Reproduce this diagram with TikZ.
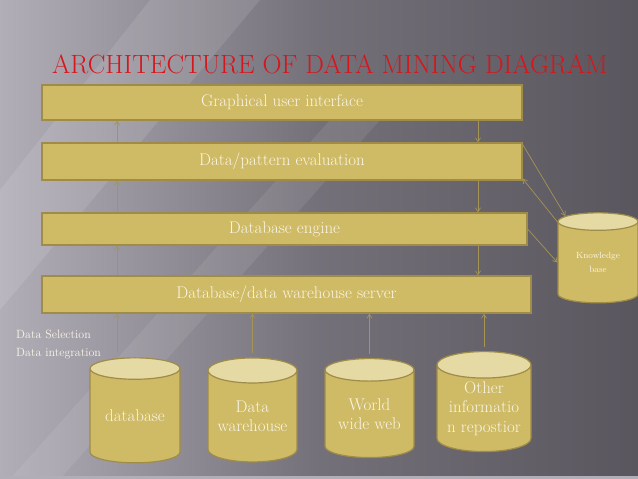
\documentclass[tikz,border=0pt]{standalone}
\usepackage{tikz}
\usetikzlibrary{shapes.geometric, arrows.meta, positioning}
\definecolor{bgdark}{RGB}{90,86,94}
\definecolor{bglight}{RGB}{178,174,184}
\definecolor{boxgold}{RGB}{207,186,102}
\definecolor{edgegold}{RGB}{158,140,72}
\definecolor{capgold}{RGB}{229,217,164}
\definecolor{textcream}{RGB}{250,246,228}
\definecolor{titlered}{RGB}{214,22,28}
\definecolor{arrowolive}{RGB}{165,148,84}

\begin{document}
\begin{tikzpicture}[
        x=1bp, y=-1bp,
        layer/.style={rectangle, draw=edgegold, line width=1.2pt, fill=boxgold, text=textcream, font=\fontsize{17}{20}\selectfont, inner sep=0pt},
        store/.style={cylinder, shape border rotate=90, draw=edgegold, line width=1.2pt, cylinder uses custom fill, cylinder body fill=boxgold, cylinder end fill=capgold, text=textcream, align=center, inner sep=0pt, aspect=0.36, font=\fontsize{17}{19.5}\selectfont},
        flow/.style={-{Straight Barb[length=4pt,width=5pt]}, draw=arrowolive, line width=0.7pt}
    ]
        % Background
        \useasboundingbox (0,0) rectangle (638,479);
        \shade[left color=bglight, right color=bgdark, middle color=bgdark!70!bglight] (0,0) rectangle (638,479);
        \fill[white, opacity=0.10] (150,0) -- (260,0) -- (0,310) -- (0,190) -- cycle;
        \fill[white, opacity=0.08] (330,120) -- (380,120) -- (60,479) -- (10,479) -- cycle;
        \fill[bglight] (0,476) rectangle (638,479);

        % Title
        \node[font=\fontsize{26.5}{30}\selectfont, text=titlered] (title) at (330,64) {ARCHITECTURE OF DATA MINING DIAGRAM};

        % Layers
        \node[layer, minimum width=480bp, minimum height=35bp] (gui) at (282,102.5) {Graphical user interface};
        \node[layer, minimum width=480bp, minimum height=37bp] (eval) at (282,161.5) {Data/pattern evaluation};
        \node[layer, minimum width=485bp, minimum height=32bp] (engine) at (284.5,229) {Database engine};
        \node[layer, minimum width=489bp, minimum height=37bp] (server) at (286.5,294.5) {Database/data warehouse server};

        % Knowledge base
        \node[store, minimum width=80bp, minimum height=90bp, aspect=0.4, font=\fontsize{9}{14}\selectfont] (kb) at (598,262.5) {Knowledge\\base};

        % Data sources
        \node[store, minimum width=90bp, minimum height=105bp] (db) at (135,416) {database};
        \node[store, minimum width=89bp, minimum height=104bp] (dw) at (252.5,416.5) {Data\\warehouse};
        \node[store, minimum width=89bp, minimum height=99bp] (www) at (369.5,414) {World\\wide web};
        \node[store, minimum width=94bp, minimum height=100bp] (other) at (484,408.5) {Other\\informatio\\n repostior};

        \node[text=textcream, font=\fontsize{12}{18}\selectfont, align=left, anchor=north west, inner sep=0pt] (sel) at (16,330) {Data Selection\\Data integration};

        % Flows between layers
        \coordinate (upx) at (117,0);
        \coordinate (dnx) at (478,0);
        \foreach \lo/\hi in {server/engine, engine/eval, eval/gui}
            \draw[flow] (\lo.north -| upx) -- (\hi.south -| upx);
        \foreach \hi/\lo in {gui/eval, eval/engine, engine/server}
            \draw[flow] (\hi.south -| dnx) -- (\lo.north -| dnx);

        % Sources to server
        \draw[flow] ([yshift=4bp]db.north -| upx) -- (server.south -| upx);
        \foreach \src in {dw, www, other}
            \draw[flow] ([yshift=4bp]\src.north) -- (\src.north |- server.south);

        % Knowledge base links
        \draw[flow] ([yshift=-2bp]eval.north east) -- (kb.125);
        \draw[flow] (kb.135) -- ([yshift=2bp]eval.south east);
        \draw[flow] (engine.east) -- (kb.180);
    \end{tikzpicture}
\end{document}
